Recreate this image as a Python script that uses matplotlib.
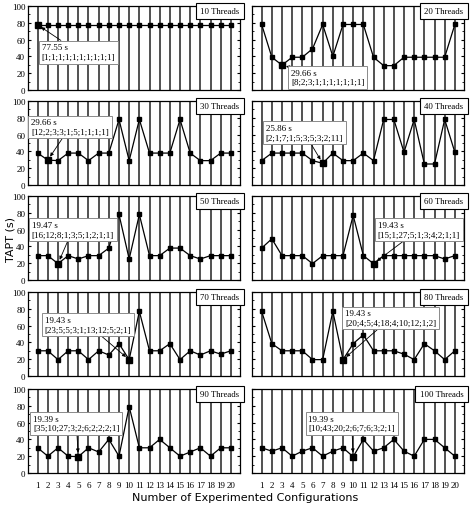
import matplotlib
matplotlib.use("Agg")
import matplotlib.pyplot as plt
from matplotlib.ticker import MultipleLocator

# configuration index on the x axis
configs = list(range(1, 21))

# TAPT (s) per configuration, one list per thread count
t10 = [77.55, 77.55, 77.55, 77.55, 77.55, 77.55, 77.55, 77.55, 77.55, 77.55,
       77.55, 77.55, 77.55, 77.55, 77.55, 77.55, 77.55, 77.55, 77.55, 77.55]
t20 = [78, 39, 29.66, 39, 39, 49, 78, 40, 78, 78, 78, 39, 29, 29, 39, 39, 39, 39, 39, 78]
t30 = [38, 29.66, 29, 38, 38, 29, 38, 38, 78, 29, 78, 38, 38, 38, 78, 38, 29, 29, 38, 38]
t40 = [29, 38, 38, 38, 38, 29, 25.86, 38, 29, 29, 38, 29, 78, 78, 39, 78, 25, 25, 78, 39]
t50 = [29, 29, 19.47, 29, 25, 29, 29, 38, 78, 25, 78, 29, 29, 38, 38, 29, 25, 29, 29, 29]
t60 = [38, 49, 29, 29, 29, 19.5, 29, 29, 29, 77, 29, 19.43, 29, 29, 29, 29, 29, 29, 25, 29]
t70 = [30, 30, 19.5, 30, 30, 19.5, 30, 25, 38.5, 19.43, 77, 30, 30, 38.5, 19.5, 30, 25, 30, 26, 30]
t80 = [77, 38.5, 30, 30, 30, 19.5, 19.5, 77, 19.43, 38.5, 49, 30, 30, 30, 26, 19.5, 38.5, 30, 19.5, 30]
t90 = [30, 20, 30, 20, 19.39, 30, 25, 40, 20, 79, 30, 30, 40, 30, 20, 25, 30, 20, 30, 30]
t100 = [30, 26, 30, 20, 26, 30, 20, 26, 30, 19.39, 40, 26, 30, 40, 26, 20, 40, 40, 30, 20]

threads = [10, 20, 30, 40, 50, 60, 70, 80, 90, 100]
series = [t10, t20, t30, t40, t50, t60, t70, t80, t90, t100]

# best configuration of each panel
best_x = [1, 3, 2, 7, 3, 12, 10, 9, 5, 10]
best_time = [77.55, 29.66, 29.66, 25.86, 19.47, 19.43, 19.43, 19.43, 19.39, 19.39]
best_config = ["[1;1;1;1;1;1;1;1;1;1]", "[8;2;3;1;1;1;1;1;1;1]",
               "[12;2;3;3;1;5;1;1;1;1]", "[2;1;7;1;5;3;5;3;2;11]",
               "[16;12;8;1;3;5;1;2;1;1]", "[15;1;27;5;1;3;4;2;1;1]",
               "[23;5;5;3;1;13;12;5;2;1]", "[20;4;5;4;18;4;10;12;1;2]",
               "[35;10;27;3;2;6;2;2;2;1]", "[10;43;20;2;6;7;6;3;2;1]"]

# where the annotation box sits (left edge x, centre y) in data coords
box_pos = [(1.4, 45), (3.9, 15), (0.35, 69), (1.4, 62), (0.4, 60),
           (12.4, 60), (1.7, 61), (9.2, 69), (0.55, 59), (5.6, 59)]

W, H = 474, 506
fig = plt.figure(figsize=(W / 100, H / 100), dpi=100)
serif = "Liberation Serif"

col_left = [28, 252]
col_width = 212
row_top = [7, 102, 197, 293, 390]
row_height = 84

for i, (n, vals) in enumerate(zip(threads, series)):
    r, c = divmod(i, 2)
    ax = fig.add_axes([col_left[c] / W, 1 - (row_top[r] + row_height) / H,
                       col_width / W, row_height / H])

    # dark vertical line at every configuration
    for x in configs:
        ax.axvline(x, color="#333333", lw=1.2, zorder=1)

    ax.plot(configs, vals, color="black", lw=0.9, marker="s", markersize=2.3, zorder=3)
    ax.plot([best_x[i]], [best_time[i]], marker="s", markersize=4.8,
            color="black", zorder=4)

    ax.set_xlim(0.05, 20.9)
    ax.set_ylim(0, 100)
    ax.yaxis.set_major_locator(MultipleLocator(20))
    ax.yaxis.set_minor_locator(MultipleLocator(10))
    ax.set_xticks(configs)
    ax.tick_params(axis="both", which="both", direction="in", right=True,
                   labelsize=6.5, pad=2, length=2.5)
    ax.tick_params(axis="y", which="minor", length=1.5)
    ax.tick_params(axis="x", length=0, pad=6)
    for lab in ax.get_xticklabels() + ax.get_yticklabels():
        lab.set_fontfamily(serif)
    if c == 1:
        ax.set_yticklabels([])
    if r < 4:
        ax.set_xticklabels([])
    for sp in ax.spines.values():
        sp.set_linewidth(0.9)

    ax.text(0.997, 0.988, f"{n} Threads", transform=ax.transAxes, ha="right", va="top",
            fontsize=6.3, family=serif, zorder=6,
            bbox=dict(boxstyle="square,pad=0.5", fc="white", ec="black", lw=0.8))

    bx, by = box_pos[i]
    ax.annotate(f"{best_time[i]:.2f} s\n{best_config[i]}",
                xy=(best_x[i], best_time[i]), xytext=(bx, by),
                ha="left", va="center", fontsize=6.5, family=serif,
                linespacing=1.25, zorder=6,
                bbox=dict(boxstyle="square,pad=0.3", fc="white", ec="#8a8a8a", lw=0.7),
                arrowprops=dict(arrowstyle="-|>", color="black", lw=0.6,
                                mutation_scale=5, shrinkA=0, shrinkB=3))

fig.text(11 / W, 1 - 240 / H, "TAPT (s)", rotation=90, ha="center", va="center",
         fontsize=8)
fig.text(245 / W, 1 - 498 / H, "Number of Experimented Configurations",
         ha="center", va="center", fontsize=8)

fig.savefig("out.png", dpi=100)
